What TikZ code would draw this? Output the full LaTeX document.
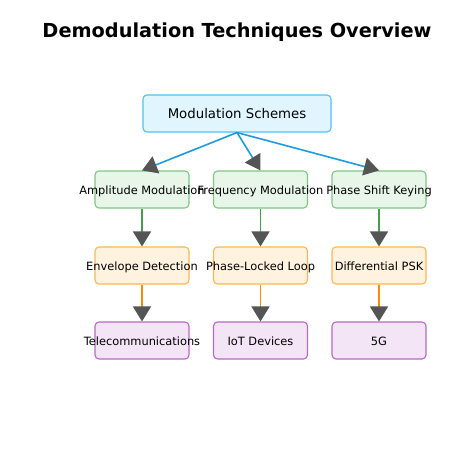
\documentclass[tikz,border=0pt]{standalone}
\usepackage{fontspec}
\setmainfont{DejaVu Sans}
\usetikzlibrary{arrows.meta}
\definecolor{topfill}{HTML}{E1F5FE}
\definecolor{topdraw}{HTML}{4FC3F7}
\definecolor{gfill}{HTML}{E8F5E9}
\definecolor{gdraw}{HTML}{81C784}
\definecolor{ofill}{HTML}{FFF3E0}
\definecolor{odraw}{HTML}{FFB74D}
\definecolor{pfill}{HTML}{F3E5F5}
\definecolor{pdraw}{HTML}{BA68C8}
\definecolor{bline}{HTML}{1E9BE0}
\definecolor{gline}{HTML}{43A047}
\definecolor{oline}{HTML}{FB8C00}
\definecolor{tipgray}{HTML}{555555}
\tikzset{
  box/.style={draw, rounded corners=4pt, line width=1.1pt, inner sep=0pt,
    minimum width=94pt, minimum height=37pt, font=\fontsize{11.4}{13}\selectfont},
  topbox/.style={box, fill=topfill, draw=topdraw, minimum width=188pt,
    font=\fontsize{13.3}{16}\selectfont},
  gbox/.style={box, fill=gfill, draw=gdraw},
  obox/.style={box, fill=ofill, draw=odraw},
  pbox/.style={box, fill=pfill, draw=pdraw},
  conn/.style={line width=1.6pt, -{Triangle[width=18pt,length=15pt,color=tipgray]}},
}
\newcommand{\zw}[1]{\smash{\raisebox{-4.6pt}{\makebox[0pt][c]{#1}}}}
\begin{document}
\begin{tikzpicture}[x=1pt,y=-1pt]
\useasboundingbox[fill=white] (0,0) rectangle (474,474);
\node[font=\fontsize{19.3}{22}\selectfont\bfseries] (title) at (237,32) {Demodulation Techniques Overview};
\node[topbox] (ms) at (237,113.5) {\zw{Modulation Schemes}};
\node[gbox] (am) at (142,189.5) {\zw{Amplitude Modulation}};
\node[gbox] (fm) at (260.5,189.5) {\zw{Frequency Modulation}};
\node[gbox] (psk) at (379,189.5) {\zw{Phase Shift Keying}};
\node[obox] (ed) at (142,265.5) {\zw{Envelope Detection}};
\node[obox] (pll) at (260.5,265.5) {\zw{Phase-Locked Loop}};
\node[obox] (dpsk) at (379,265.5) {\zw{Differential PSK}};
\node[pbox] (tel) at (142,340.5) {\zw{Telecommunications}};
\node[pbox] (iot) at (260.5,340.5) {\zw{IoT Devices}};
\node[pbox] (g5) at (379,340.5) {\zw{5G}};
\draw[conn, bline] (ms.south) -- (am.north);
\draw[conn, bline] (ms.south) -- (fm.north);
\draw[conn, bline] (ms.south) -- (psk.north);
\draw[conn, gline] (am) -- (ed);
\draw[conn, gline] (fm) -- (pll);
\draw[conn, gline] (psk) -- (dpsk);
\draw[conn, oline] (ed) -- (tel);
\draw[conn, oline] (pll) -- (iot);
\draw[conn, oline] (dpsk) -- (g5);
\end{tikzpicture}
\end{document}
